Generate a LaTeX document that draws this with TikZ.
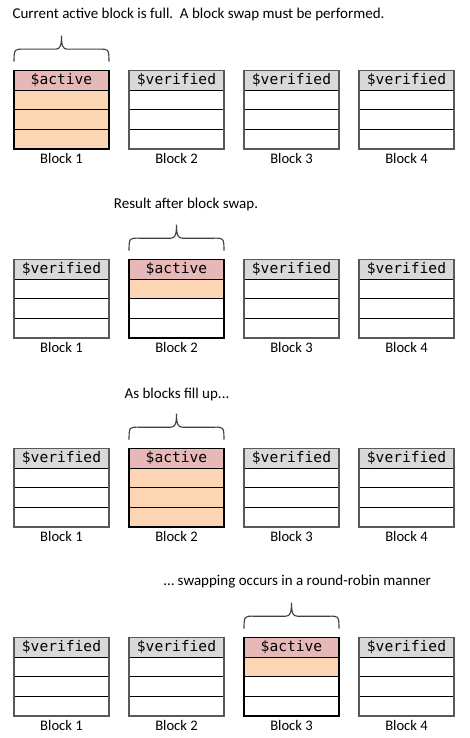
\documentclass[tikz,border=0pt]{standalone}
\usepackage{fontspec}
\setmainfont{Carlito}
\newfontfamily\codefont{DejaVu Sans Mono}
\definecolor{activehd}{HTML}{E6B8B7}
\definecolor{fillc}{HTML}{FCD5B4}
\definecolor{verhd}{HTML}{D9D9D9}
\definecolor{vborder}{HTML}{595959}
\definecolor{bracec}{HTML}{404040}
\begin{document}
\begin{tikzpicture}[x=1pt,y=-1pt,
  cell/.style={draw=black, line width=0.9pt, minimum width=95pt, minimum height=19.6pt,
    inner sep=0pt, outer sep=0pt, anchor=north west},
  hd/.style={cell, font=\codefont\fontsize{14.6}{16}\selectfont},
  frameA/.style={draw=black, line width=1.3pt},
  frameV/.style={draw=vborder, line width=1.3pt},
  blabel/.style={font=\fontsize{14.6}{16}\selectfont, inner sep=0pt},
  title/.style={font=\fontsize{15}{16}\selectfont, inner sep=0pt},
  bracestyle/.style={draw=bracec, line width=1.1pt}
]
\useasboundingbox (0,0) rectangle (470,738);
\fill[white] (0,0) rectangle (470,738);

\node[title] (t0) at (198.5,15) {Current active block is full.\ \ A block swap must be performed.};
\node[title] (t1) at (186,204.5) {Result after block swap.};
\node[title] (t2) at (177,394) {As blocks fill up...};
\node[title] (t3) at (297.5,582) {… swapping occurs in a round-robin manner};

\foreach \r/\act/\nf in {0/1/3,1/2/1,2/2/3,3/3/1}{
  \foreach \b in {1,...,4}{
    \pgfmathsetmacro\bx{14+115*(\b-1)}
    \pgfmathsetmacro\by{70.7+189*\r}
    \ifnum\b=\act\relax
      \node[hd, fill=activehd] (h-\r-\b) at (\bx,\by) {\$active};
      \foreach \k in {1,2,3}{
        \ifnum\k>\nf\relax
          \node[cell, fill=white] (c\k-\r-\b) at (\bx,\by+19.6*\k) {};
        \else
          \node[cell, fill=fillc] (c\k-\r-\b) at (\bx,\by+19.6*\k) {};
        \fi
      }
      \draw[frameA] (h-\r-\b.north west) rectangle (c3-\r-\b.south east);
      % brace above the active block
      \pgfmathsetmacro\xa{\bx}
      \pgfmathsetmacro\xm{\bx+47.5}
      \pgfmathsetmacro\xb{\bx+95}
      \pgfmathsetmacro\ye{\by-9}
      \pgfmathsetmacro\yh{\by-21.5}
      \pgfmathsetmacro\yt{\by-35}
      \draw[bracestyle] (\xa,\ye) .. controls (\xa,\yh-1) and (\xa+1,\yh) .. (\xa+10,\yh)
        -- (\xm-6,\yh) .. controls (\xm-1.5,\yh) and (\xm,\yh-3) .. (\xm,\yt)
        .. controls (\xm,\yh-3) and (\xm+1.5,\yh) .. (\xm+6,\yh)
        -- (\xb-10,\yh) .. controls (\xb-1,\yh) and (\xb,\yh-1) .. (\xb,\ye);
    \else
      \node[hd, fill=verhd] (h-\r-\b) at (\bx,\by) {\$verified};
      \foreach \k in {1,2,3}{
        \node[cell, fill=white] (c\k-\r-\b) at (\bx,\by+19.6*\k) {};
      }
      \draw[frameV] (h-\r-\b.north west) rectangle (c3-\r-\b.south east);
    \fi
    \node[blabel] (l-\r-\b) at (\bx+47.5,\by+88) {Block \b};
  }
}
\end{tikzpicture}
\end{document}
